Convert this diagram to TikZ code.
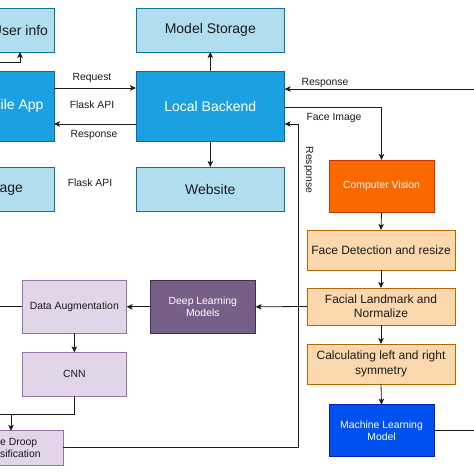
\documentclass[tikz,border=0pt]{standalone}
\usepackage{fontspec}
\setmainfont{Liberation Sans}
\usetikzlibrary{arrows.meta,calc}
\definecolor{lbfill}{HTML}{B1DDF0}\definecolor{lbdraw}{HTML}{10739E}
\definecolor{bfill}{HTML}{1BA1E2}\definecolor{bdraw}{HTML}{006EAF}
\definecolor{ofill}{HTML}{FA6800}\definecolor{odraw}{HTML}{C73500}
\definecolor{lofill}{HTML}{FAD7AC}\definecolor{lodraw}{HTML}{B46504}
\definecolor{mfill}{HTML}{0050EF}\definecolor{mdraw}{HTML}{001DBC}
\definecolor{pfill}{HTML}{76608A}\definecolor{pdraw}{HTML}{432D57}
\definecolor{lpfill}{HTML}{E1D5E7}\definecolor{lpdraw}{HTML}{9673A6}
\definecolor{ink}{HTML}{1A1A1A}
\tikzset{
  box/.style={draw, line width=0.8pt, inner sep=2pt, outer sep=0pt, align=center, text=ink},
  bigtxt/.style={font=\fontsize{14}{16}\selectfont},
  smalltxt/.style={font=\fontsize{10.4}{12.5}\selectfont},
  midtxt/.style={font=\fontsize{12}{14.3}\selectfont},
  lightblue/.style={box, bigtxt, fill=lbfill, draw=lbdraw},
  blue/.style={box, bigtxt, fill=bfill, draw=bdraw, text=white},
  orange/.style={box, smalltxt, fill=ofill, draw=odraw, text=white},
  lorange/.style={box, midtxt, fill=lofill, draw=lodraw},
  mlblue/.style={box, smalltxt, fill=mfill, draw=mdraw, text=white},
  purple/.style={box, smalltxt, fill=pfill, draw=pdraw, text=white},
  lpurple/.style={box, smalltxt, fill=lpfill, draw=lpdraw},
  lbl/.style={smalltxt, text=ink, inner sep=0pt},
  conn/.style={draw=ink, line width=0.8pt},
  arr/.style={conn, -{Stealth[length=6pt,width=5.5pt,inset=1.5pt]}},
}
\begin{document}
\begin{tikzpicture}[x=1pt,y=-1pt]
\useasboundingbox (0,0) rectangle (474,474);
\clip (0,0) rectangle (474,474);
\fill[white] (0,0) rectangle (474,474);
% left column (cropped)
\node[lightblue, minimum width=68, minimum height=44] (userinfo) at (20,30) {User info};
\node[blue, minimum width=91, minimum height=70.7] (mobile) at (8.5,106.3) {Mobile App};
\node[lightblue, minimum width=111, minimum height=44.7] (storage) at (-1.5,189.3) {Storage};
% middle column
\node[lightblue, minimum width=148.7, minimum height=44] (mstore) at (210.3,30) {Model Storage};
\node[blue, minimum width=148.7, minimum height=70.7] (backend) at (210.3,106.3) {Local Backend};
\node[lightblue, minimum width=148.7, minimum height=44.7] (website) at (210.3,189.3) {Website};
% right column
\node[orange, minimum width=105, minimum height=52.7] (cv) at (381.5,186.3) {Computer Vision};
\node[lorange, minimum width=148, minimum height=40] (facedet) at (381,250) {Face Detection and resize};
\node[lorange, minimum width=148, minimum height=37] (landmark) at (381,306.5) {Facial Landmark and\\Normalize};
\node[lorange, minimum width=148, minimum height=40] (calc) at (381,364) {Calculating left and right\\symmetry};
\node[mlblue, minimum width=105, minimum height=52] (ml) at (381.5,430.7) {Machine Learning\\Model};
% deep learning branch
\node[purple, minimum width=105.6, minimum height=52.3] (dl) at (202.8,306.8) {Deep Learning\\Models};
\node[lpurple, minimum width=104.7, minimum height=52.3] (dataaug) at (74.3,306.8) {Data Augmentation};
\node[lpurple, minimum width=104.7, minimum height=43.7] (cnn) at (74.3,374.2) {CNN};
\node[lpurple, minimum width=106, minimum height=34.3] (droop) at (10,448) {Face Droop\\Classification};
% labels
\node[lbl] (lreq) at (92,78) {Request};
\node[lbl] (lflask1) at (92,105) {Flask API};
\node[lbl] (lresp1) at (94,134.5) {Response};
\node[lbl] (lflask2) at (90,183) {Flask API};
\node[lbl] (lresp2) at (325,83) {Response};
\node[lbl] (lface) at (334,117.5) {Face Image};
\node[lbl, rotate=-90] (lresp3) at (308.5,170) {Response};
% free ends
\coordinate (u0) at (0,62);
\coordinate (rr) at (474,89);
\coordinate (rv) at (298,447);
\coordinate (cj) at (11,414);
\coordinate (cl) at (0,414);
\coordinate (al) at (0,306.8);
\coordinate (mr) at (474,430.7);
% connectors
\draw[arr] (mobile.east |- 0,88) -- (backend.west |- 0,88);
\draw[arr] (backend.west |- 0,124) -- (mobile.east |- 0,124);
\draw[arr] (backend.north) -- (mstore.south);
\draw[arr] (backend.south) -- (website.north);
\draw[arr] (u0) -| (userinfo.south);
\draw[arr] (rr) -- (backend.east |- rr);
\draw[arr] (backend.east |- 0,107) -| (cv.north);
\draw[arr] (droop.east |- rv) -- (rv) |- (backend.east |- 0,124);
\draw[arr] (cv.south) -- (facedet.north);
\draw[arr] (facedet.south) -- (landmark.north);
\draw[arr] (landmark.south) -- (calc.north);
\draw[arr] (calc.south) -- (ml.north);
\draw[arr] (landmark.west) -- (dl.east);
\draw[arr] (dl.west) -- (dataaug.east);
\draw[conn] (al) -- (dataaug.west);
\draw[arr] (dataaug.south) -- (cnn.north);
\draw[arr] (cnn.south) |- (cj) -- (droop.north -| cj);
\draw[conn] (cj) -- (cl);
\draw[conn] (ml.east) -- (mr);
\end{tikzpicture}
\end{document}
